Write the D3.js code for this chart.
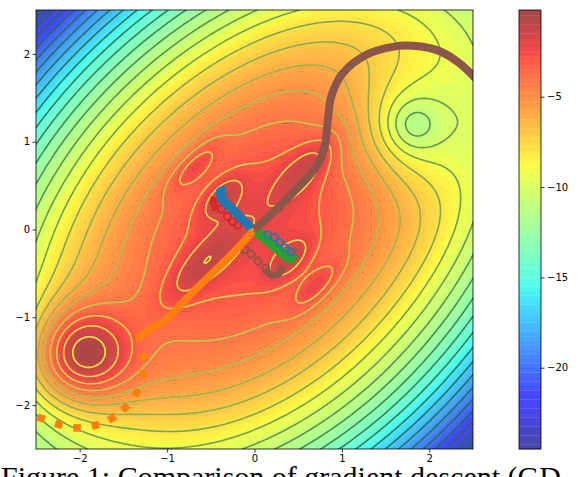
<!DOCTYPE html>
<html>
<head>
<meta charset="utf-8">
<script src="https://cdn.jsdelivr.net/npm/d3@7"></script>
<style>
  body { margin: 0; background: #fff; }
  svg { display: block; }
</style>
</head>
<body>
<div id="chart"></div>
<script>
// ---- values ----
const xDomain = [-2.5, 2.5];
const yDomain = [-2.5, 2.5];
const xTicks = [-2, -1, 0, 1, 2];
const yTicks = [-2, -1, 0, 1, 2];
const colorDomain = [-24.5, -0.2];
const colorbarTicks = [-5, -10, -15, -20];
const lineLevels = d3.range(-24, 0, 1);
const fillLevels = d3.range(-24.5, -0.2, 0.25);

// landscape: bowl around the diagonal (u along x=y, v across it)
const bowlOffset = -2.4;
const bowlAcross = 1.78;        // v^2 term
const bowlAlong = [0.68, 0.76]; // u^2 term, upper-right / lower-left
// bumps: [cx, cy, height, sigma along axis, sigma across, axis angle in degrees]
const bumps = [
  [-0.69, 0.72, 1.7, 0.28, 0.10, 45],
  [0.71, -0.65, 1.7, 0.28, 0.10, 45],
  [-0.37, 0.37, 1.8, 0.22, 0.11, 45],
  [0.40, -0.34, 1.8, 0.22, 0.11, 45],
  [0.60, 0.72, 1.8, 0.35, 0.14, 45],
  [-0.62, -0.42, 1.8, 0.45, 0.15, 45],
  [-1.99, -1.40, 5.9, 0.38, 0.38, 45],
  [-1.90, -1.62, 0.9, 0.8, 0.3, 0],
  [1.80, 1.18, -3.8, 0.5, 0.5, 45],
  [1.80, 1.18, -1.8, 0.2, 0.2, 45]
];

// optimiser paths
const orangePath = [[-0.02,-0.02],[-0.21,-0.23],[-0.40,-0.42],[-0.63,-0.64],[-0.82,-0.83],[-1.01,-1.02],[-1.20,-1.14],[-1.33,-1.23]];
const orangeDots = [[-1.32,-1.23],[-1.27,-1.45],[-1.28,-1.65],[-1.35,-1.86],[-1.48,-2.03],[-1.63,-2.15],[-1.82,-2.23],[-2.03,-2.26],[-2.24,-2.22],[-2.44,-2.15]];
const brownPath = [[0,0],[0.25,0.23],[0.48,0.46],[0.71,0.72],[0.80,0.93],[0.84,1.25],[0.88,1.52],[1.01,1.78],[1.28,1.99],[1.58,2.08],[1.85,2.09],[2.12,2.03],[2.35,1.89],[2.55,1.70]];
const brownHook = [[0.12,-0.45],[0.20,-0.52],[0.28,-0.50],[0.32,-0.42]];
const brownRings = [[-0.11,-0.23],[-0.04,-0.28],[0.04,-0.36],[0.13,-0.44]];
const greenPath = [[0.01,-0.01],[0.12,-0.10],[0.24,-0.20],[0.35,-0.29],[0.42,-0.33],[0.44,-0.28]];
const bluePath = [[-0.03,0.01],[-0.15,0.13],[-0.27,0.25],[-0.37,0.35],[-0.39,0.43],[-0.33,0.45]];
const blueRings = [[0.15,-0.06],[0.23,-0.09],[0.29,-0.15],[0.35,-0.21],[0.42,-0.26]];
const redPath = [[-0.44,0.22],[-0.47,0.30],[-0.46,0.37]];
const redRings = [[-0.38,0.23],[-0.31,0.15],[-0.25,0.09],[-0.19,0.05]];

const caption = "Figure 1: Comparison of gradient descent (GD";

// ---- layout ----
const width = 582, height = 477;
const plot = { left: 36, right: 473, top: 10, bottom: 449 };
const cbar = { left: 519, right: 541, top: 10, bottom: 449 };

const x = d3.scaleLinear().domain(xDomain).range([plot.left, plot.right]);
const y = d3.scaleLinear().domain(yDomain).range([plot.bottom, plot.top]);
const cy = d3.scaleLinear().domain(colorDomain).range([cbar.bottom, cbar.top]);

// matplotlib jet for the fill (alpha over white), summer-like for the lines
const jetR = [[0,0],[0.35,0],[0.66,1],[0.89,1],[1,0.5]];
const jetG = [[0,0],[0.125,0],[0.375,1],[0.64,1],[0.91,0],[1,0]];
const jetB = [[0,0.5],[0.11,1],[0.34,1],[0.65,0],[1,0]];
function channel(pts, t) {
  for (let k = 1; k < pts.length; k++) {
    if (t <= pts[k][0]) {
      const [x0, y0] = pts[k - 1], [x1, y1] = pts[k];
      return y0 + (y1 - y0) * (t - x0) / (x1 - x0);
    }
  }
  return pts[pts.length - 1][1];
}
const alpha = 0.72;
function fillColor(v) {
  const t = Math.max(0, Math.min(1, (v - colorDomain[0]) / (colorDomain[1] - colorDomain[0])));
  const mix = c => Math.round(255 * (c * alpha + 1 - alpha));
  return d3.rgb(mix(channel(jetR, t)), mix(channel(jetG, t)), mix(channel(jetB, t))).toString();
}
function lineColor(level) {
  const t = Math.pow((level - lineLevels[0]) / (lineLevels[lineLevels.length - 1] - lineLevels[0]), 2.2);
  return d3.rgb(235 * t + 20, 112 + 118 * t, 92 - 20 * t).toString();
}

function landscape(px, py) {
  const u = (px + py) / Math.SQRT2, v = (py - px) / Math.SQRT2;
  let f = bowlOffset - bowlAcross * v * v - (u > 0 ? bowlAlong[0] : bowlAlong[1]) * u * u;
  bumps.forEach(([bx, by, h, sa, sb, ang]) => {
    const c = Math.cos(ang * Math.PI / 180), s = Math.sin(ang * Math.PI / 180);
    const da = (px - bx) * c + (py - by) * s;
    const db = (py - by) * c - (px - bx) * s;
    f += h * Math.exp(-(da * da) / (2 * sa * sa) - (db * db) / (2 * sb * sb));
  });
  return f;
}

// sample grid, row 0 at the top
const n = 220;
const step = (xDomain[1] - xDomain[0]) / (n - 1);
const grid = new Array(n * n);
for (let j = 0; j < n; j++) {
  for (let i = 0; i < n; i++) {
    grid[i + j * n] = landscape(xDomain[0] + i * step, yDomain[1] - j * step);
  }
}

const gridPath = d3.geoPath(d3.geoTransform({
  point: function(c, r) {
    this.stream.point(x(xDomain[0] + (c - 0.5) * step), y(yDomain[1] - (r - 0.5) * step));
  }
}));

const svg = d3.select("#chart").append("svg")
  .attr("width", width)
  .attr("height", height);

svg.append("clipPath").attr("id", "plotclip")
  .append("rect")
  .attr("x", plot.left).attr("y", plot.top)
  .attr("width", plot.right - plot.left).attr("height", plot.bottom - plot.top);

const body = svg.append("g").attr("clip-path", "url(#plotclip)");

// filled bands
body.append("rect")
  .attr("x", plot.left).attr("y", plot.top)
  .attr("width", plot.right - plot.left).attr("height", plot.bottom - plot.top)
  .attr("fill", fillColor(colorDomain[0]));

const fills = d3.contours().size([n, n]).thresholds(fillLevels)(grid);
body.append("g").selectAll("path")
  .data(fills)
  .join("path")
  .attr("d", gridPath)
  .attr("fill", d => fillColor(d.value + 0.125))
  .attr("stroke", d => fillColor(d.value + 0.125))
  .attr("stroke-width", 0.4);

// contour lines
const lines = d3.contours().size([n, n]).thresholds(lineLevels)(grid);
body.append("g").selectAll("path")
  .data(lines)
  .join("path")
  .attr("d", gridPath)
  .attr("fill", "none")
  .attr("stroke", d => lineColor(d.value))
  .attr("stroke-width", 1.6);

// optimiser paths
const line = d3.line().x(d => x(d[0])).y(d => y(d[1])).curve(d3.curveCatmullRom.alpha(0.5));

function drawPath(pts, color, w) {
  body.append("path")
    .attr("d", line(pts))
    .attr("fill", "none")
    .attr("stroke", color)
    .attr("stroke-width", w)
    .attr("stroke-linejoin", "round");
}
function drawRings(pts, color) {
  body.append("g").selectAll("circle")
    .data(pts)
    .join("circle")
    .attr("cx", d => x(d[0]))
    .attr("cy", d => y(d[1]))
    .attr("r", 3.6)
    .attr("fill", "none")
    .attr("stroke", color)
    .attr("stroke-width", 1.8);
}

drawPath(redPath, "#d62728", 7);
drawRings(redRings, "#d62728");
drawPath(bluePath, "#1f77b4", 9);
drawPath(greenPath, "#2ca02c", 10);
drawRings(blueRings, "#1f77b4");
drawRings(brownRings, "#8c564b");
drawPath(brownHook, "#8c564b", 7);
drawPath(orangePath, "#ff7f0e", 7.5);
drawPath(brownPath, "#8c564b", 8);

body.append("g").selectAll("rect")
  .data(orangeDots)
  .join("rect")
  .attr("x", -3.8).attr("y", -3.8)
  .attr("width", 7.6).attr("height", 7.6)
  .attr("fill", "#ff7f0e")
  .attr("transform", (d, i) => {
    const a = orangeDots[Math.max(0, i - 1)], b = orangeDots[Math.min(orangeDots.length - 1, i + 1)];
    const ang = Math.atan2(y(b[1]) - y(a[1]), x(b[0]) - x(a[0])) * 180 / Math.PI;
    return `translate(${x(d[0])},${y(d[1])}) rotate(${ang})`;
  });

// frame and axes
svg.append("rect")
  .attr("x", plot.left).attr("y", plot.top)
  .attr("width", plot.right - plot.left).attr("height", plot.bottom - plot.top)
  .attr("fill", "none").attr("stroke", "#000").attr("stroke-width", 0.8);

const fmt = d => (d < 0 ? "\u2212" + Math.abs(d) : String(d));

const xAxis = svg.append("g")
  .attr("transform", `translate(0,${plot.bottom})`)
  .call(d3.axisBottom(x).tickValues(xTicks).tickSize(3.5).tickPadding(2).tickFormat(fmt));
const yAxis = svg.append("g")
  .attr("transform", `translate(${plot.left},0)`)
  .call(d3.axisLeft(y).tickValues(yTicks).tickSize(3.5).tickPadding(2.5).tickFormat(fmt));

// colorbar
const cbarBands = d3.range(colorDomain[0], colorDomain[1], 0.25);
svg.append("g").selectAll("rect")
  .data(cbarBands)
  .join("rect")
  .attr("x", cbar.left)
  .attr("width", cbar.right - cbar.left)
  .attr("y", d => cy(Math.min(d + 0.25, colorDomain[1])))
  .attr("height", d => cy(d) - cy(Math.min(d + 0.25, colorDomain[1])) + 0.3)
  .attr("fill", d => fillColor(d + 0.125));
svg.append("rect")
  .attr("x", cbar.left).attr("y", cbar.top)
  .attr("width", cbar.right - cbar.left).attr("height", cbar.bottom - cbar.top)
  .attr("fill", "none").attr("stroke", "#000").attr("stroke-width", 0.8);
const cAxis = svg.append("g")
  .attr("transform", `translate(${cbar.right},0)`)
  .call(d3.axisRight(cy).tickValues(colorbarTicks).tickSize(3.5).tickPadding(2.5).tickFormat(fmt));

[xAxis, yAxis, cAxis].forEach(g => {
  g.select(".domain").remove();
  g.selectAll("line").attr("stroke", "#000").attr("stroke-width", 0.8);
  g.selectAll("text").attr("font-family", "DejaVu Sans").attr("font-size", 10).attr("fill", "#000");
});

svg.append("text")
  .attr("x", 1)
  .attr("y", 487)
  .attr("font-family", "Liberation Serif")
  .attr("font-size", 30)
  .attr("fill", "#000")
  .text(caption);
</script>
</body>
</html>
